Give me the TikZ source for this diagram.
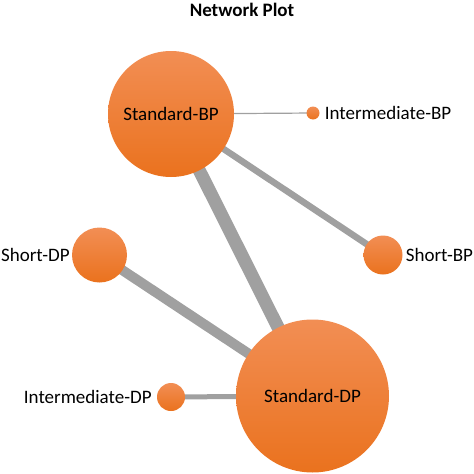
\documentclass[tikz,border=0pt]{standalone}
\usepackage{fontspec}
\setmainfont{Carlito}
\usetikzlibrary{positioning,backgrounds}
\definecolor{orangetop}{RGB}{242,142,84}
\definecolor{orangebot}{RGB}{234,114,30}
\definecolor{edgegray}{RGB}{160,160,160}
\tikzset{
  tnode/.style={circle,inner sep=0pt,top color=orangetop,bottom color=orangebot,draw=none},
  lab/.style={inner sep=0pt,font=\fontsize{19}{22}\selectfont},
  edge/.style={draw=edgegray,line cap=butt}
}

\begin{document}
\begin{tikzpicture}[x=1pt,y=-1pt]
  \useasboundingbox (0,0) rectangle (474,474);

  \node [lab,font=\fontsize{19}{22}\selectfont\bfseries] at (242,10) (title) {Network Plot};

  \node [tnode,minimum size=126pt,lab] at (171,114) (sbp) {Standard-BP};
  \node [tnode,minimum size=13pt] at (313,113) (ibp) {};
  \node [tnode,minimum size=39pt] at (383,255) (shbp) {};
  \node [tnode,minimum size=55pt] at (99.5,255) (shdp) {};
  \node [tnode,minimum size=153pt,lab] at (312.5,396) (sdp) {Standard-DP};
  \node [tnode,minimum size=28pt] at (171,397) (idp) {};

  \node [lab,right=5pt of ibp] (libp) {Intermediate-BP};
  \node [lab,right=3pt of shbp] (lshbp) {Short-BP};
  \node [lab,left=2pt of shdp] (lshdp) {Short-DP};
  \node [lab,left=5pt of idp] (lidp) {Intermediate-DP};

  \begin{pgfonlayer}{background}
    \draw [edge,line width=1.2pt] (sbp.center) -- (ibp.center);
    \draw [edge,line width=6.5pt] (sbp.center) -- (shbp.center);
    \draw [edge,line width=13pt] (sbp.center) -- (sdp.center);
    \draw [edge,line width=10pt] (shdp.center) -- (sdp.center);
    \draw [edge,line width=5pt] (idp.center) -- (sdp.center);
  \end{pgfonlayer}
\end{tikzpicture}
\end{document}
